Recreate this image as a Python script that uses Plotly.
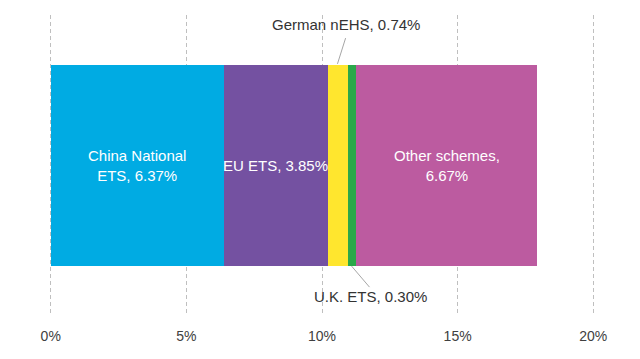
import plotly.graph_objects as go

schemes = ["China National ETS", "EU ETS", "German nEHS", "U.K. ETS", "Other schemes"]
shares = [6.37, 3.85, 0.74, 0.30, 6.67]
colors = ["#00ABE3", "#7451A1", "#FFE62E", "#2BA84A", "#BC5BA0"]
x_ticks = [0, 5, 10, 15, 20]
x_tick_labels = ["0%", "5%", "10%", "15%", "20%"]

FONT = "Liberation Sans, Arial, sans-serif"

fig = go.Figure()
for name, val, col in zip(schemes, shares, colors):
    fig.add_trace(go.Bar(
        y=["share"], x=[val], orientation="h", name=name,
        marker=dict(color=col, line=dict(width=0)),
        hoverinfo="name+x",
    ))

# cumulative positions
starts = []
acc = 0
for v in shares:
    starts.append(acc)
    acc += v
mids = [s + v / 2 for s, v in zip(starts, shares)]

annotations = []
inside = {0: "China National<br>ETS, 6.37%", 1: "EU ETS, 3.85%", 4: "Other schemes,<br>6.67%"}
for i, txt in inside.items():
    annotations.append(dict(x=mids[i], y=0, xref="x", yref="y", text=txt, showarrow=False,
                            font=dict(color="white", size=15, family=FONT), align="center"))

annotations.append(dict(x=mids[2] + 0.28, y=0.47, xref="x", yref="y", text="German nEHS, 0.74%",
                        showarrow=False, font=dict(color="#333333", size=15, family=FONT)))
annotations.append(dict(x=mids[3] + 0.68, y=-0.438, xref="x", yref="y", text="U.K. ETS, 0.30%",
                        showarrow=False, font=dict(color="#333333", size=15, family=FONT)))

shapes = [
    dict(type="line", xref="x", yref="y", x0=mids[2] - 0.02, y0=0.337, x1=mids[2] + 0.28, y1=0.423,
         line=dict(color="#A6A6A6", width=1)),
    dict(type="line", xref="x", yref="y", x0=mids[3] - 0.02, y0=-0.337, x1=mids[3] + 0.64, y1=-0.407,
         line=dict(color="#A6A6A6", width=1)),
]

fig.update_layout(
    width=624, height=343,
    margin=dict(l=40, r=36, t=7, b=36, autoexpand=False),
    paper_bgcolor="white", plot_bgcolor="white",
    barmode="stack", bargap=0.33,
    showlegend=False,
    font=dict(family=FONT, size=14, color="#404040"),
    xaxis=dict(range=[-0.1, 20.1], tickvals=x_ticks, ticktext=x_tick_labels,
               showgrid=True, gridcolor="#BFBFBF", griddash="4px,3px", gridwidth=1,
               zeroline=False, showline=False,
               ticks="outside", ticklen=8, tickcolor="rgba(0,0,0,0)", automargin=False,
               tickfont=dict(size=14, color="#404040", family=FONT)),
    yaxis=dict(visible=False, range=[-0.5, 0.5], automargin=False),
    annotations=annotations,
    shapes=shapes,
)

fig.write_html("out.html")
